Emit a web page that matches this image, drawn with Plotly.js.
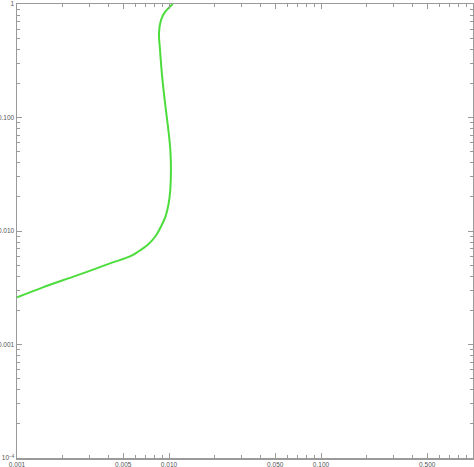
<!DOCTYPE html>
<html>
<head>
<meta charset="utf-8">
<script src="https://cdn.plot.ly/plotly-3.0.1.min.js"></script>
<style>
  body { margin: 0; background: #fff; }
  #chart { width: 474px; height: 467px; }
</style>
</head>
<body>
<div id="chart"></div>
<script>
// curve, bottom-left to top
const xValues = [0.0010, 0.00148, 0.00248, 0.00409, 0.00553, 0.00615, 0.00728, 0.00821,
                 0.00886, 0.00948, 0.00992, 0.0102, 0.0103, 0.0102, 0.00995, 0.00966,
                 0.00937, 0.0091, 0.0089, 0.00873, 0.00859, 0.00886, 0.00942, 0.0106];
const yValues = [0.0026, 0.00319, 0.00406, 0.00518, 0.00597, 0.00647, 0.0076, 0.00913,
                 0.01096, 0.0134, 0.0171, 0.0232, 0.0347, 0.052, 0.0734, 0.1016,
                 0.143, 0.202, 0.279, 0.394, 0.556, 0.723, 0.851, 1.0];

const xTickVals = [0.001, 0.005, 0.01, 0.05, 0.1, 0.5, 1];
const xTickText = ["0.001", "0.005", "0.010", "0.050", "0.100", "0.500", "1"];
const yTickVals = [0.0001, 0.001, 0.01, 0.1, 1];
const yTickText = ["10<sup>\u22124</sup>", "0.001", "0.010", "0.100", "1"];

// minor ticks at 2..9 of every decade
function minorTicks(from, to) {
    let out = [];
    for (let d = from; d < to; d *= 10) {
        for (let k = 2; k <= 9; k++) out.push(k * d);
    }
    return out;
}

const frameColor = "#9a9a9a";

let trace = {
    x: xValues,
    y: yValues,
    mode: "lines",
    line: { color: "#4cdc3c", width: 2, shape: "spline", smoothing: 1 },
    hoverinfo: "none"
};

let layout = {
    width: 474,
    height: 467,
    showlegend: false,
    paper_bgcolor: "#ffffff",
    plot_bgcolor: "#ffffff",
    margin: { l: 17, r: 1, t: 4, b: 9 },
    font: { family: "Liberation Sans, Arial, sans-serif", size: 6.5, color: "#555" },
    xaxis: {
        type: "log",
        range: [-3, 0],
        showgrid: false,
        zeroline: false,
        showline: true,
        linecolor: frameColor,
        linewidth: 1.5,
        mirror: "allticks",
        ticks: "inside",
        ticklen: 5,
        tickcolor: frameColor,
        tickvals: xTickVals,
        ticktext: xTickText,
        ticklabelstandoff: 0,
        minor: { tickvals: minorTicks(0.001, 1), ticks: "inside", ticklen: 3, tickcolor: frameColor, showgrid: false }
    },
    yaxis: {
        type: "log",
        range: [-4, 0],
        showgrid: false,
        zeroline: false,
        showline: true,
        linecolor: frameColor,
        linewidth: 1.5,
        mirror: "allticks",
        ticks: "inside",
        ticklen: 5,
        tickcolor: frameColor,
        tickvals: yTickVals,
        ticktext: yTickText,
        ticklabelstandoff: 0,
        minor: { tickvals: minorTicks(0.0001, 1), ticks: "inside", ticklen: 3, tickcolor: frameColor, showgrid: false }
    }
};

Plotly.newPlot("chart", [trace], layout, { staticPlot: true, displayModeBar: false });
</script>
</body>
</html>
